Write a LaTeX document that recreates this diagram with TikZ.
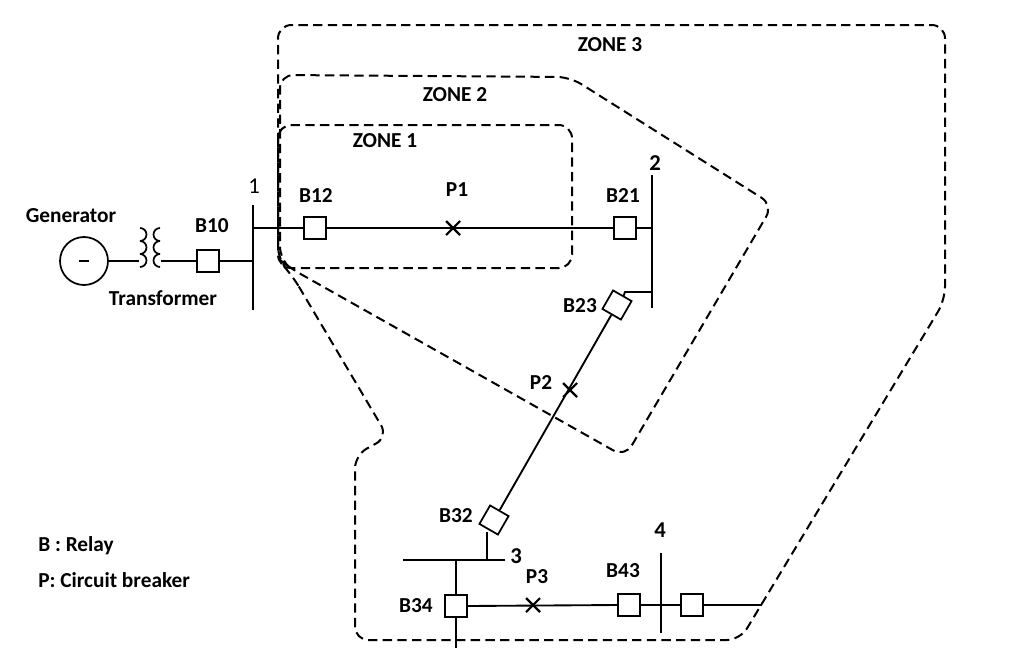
\documentclass[tikz,border=0pt]{standalone}
\usepackage{fontspec}
\setmainfont{Carlito}
\begin{document}
\begin{tikzpicture}[x=0.75pt,y=-0.75pt,line width=1.4pt,
  brk/.style={draw,fill=white,minimum size=16pt,inner sep=0pt,line width=1.3pt},
  lbl/.style={font=\bfseries\fontsize{16}{18}\selectfont,inner sep=1pt},
  num/.style={font=\bfseries\fontsize{17}{19}\selectfont,inner sep=1pt},
  zone/.style={dashed,dash pattern=on 7pt off 4pt,line width=1.5pt,rounded corners=10pt},
  bus/.style={line width=1.7pt}]
\useasboundingbox (0,0) rectangle (1024,650);
% zones
\draw[zone] (278,125) rectangle (572,268);
\draw[zone] (290,268) -- (280,260) -- (280,75) -- (570,77) -- (773,205) -- (625,457) -- cycle;
\draw[zone] (292,275) -- (388,437) -- (355,455) -- (355,640) -- (740,640) -- (945,300) -- (945,25) -- (278,25) -- (278,260) -- cycle;
\node[lbl] (z1) at (385,141) {ZONE 1};
\node[lbl] (z2) at (455,95) {ZONE 2};
\node[lbl] (z3) at (610,45) {ZONE 3};
% generator and transformer
\node[draw,circle,minimum size=36pt,line width=1.3pt] (gen) at (84,261) {};
\draw[line width=0.9pt] (79,261) -- (89,261);
\coordinate (t1) at (139,261);
\coordinate (t2) at (161,261);
\draw (gen) -- (t1);
\foreach \k in {0,1,2}{
  \draw[line width=1.3pt] (140,{241+\k*13}) arc[start angle=90,end angle=-90,radius=6.5];
  \draw[line width=1.3pt] (160,{241+\k*13}) arc[start angle=90,end angle=270,radius=6.5];
}
\node[brk] (b10) at (208,261) {};
\coordinate (bus1t) at (253,205);
\coordinate (bus1b) at (253,310);
\draw[bus] (bus1t) -- (bus1b);
\draw (t2) -- (b10.west);
\draw (b10.east) -- (253,261);
% line 1-2
\coordinate (bus2t) at (652,175);
\coordinate (bus2b) at (652,308);
\draw[bus] (bus2t) -- (bus2b);
\node[brk] (b12) at (315,228) {};
\node[brk] (b21) at (625,228) {};
\draw (253,228) -- (b12.west);
\draw (b12.east) -- (b21.west);
\draw (b21.east) -- (652,228);
\draw[line width=1.6pt] (446,221) -- (460,235) (446,235) -- (460,221);
% line 2-3
\draw (652,292) -- (625,292) -- (622,300);
\node[brk,rotate=-30] (b23) at (617,305) {};
\node[brk,rotate=-30] (b32) at (494,520) {};
\draw (b23) -- (b32);
\draw[line width=1.6pt] (563,383) -- (577,397) (563,397) -- (577,383);
\draw (487,532) -- (487,560);
\coordinate (bus3l) at (403,560);
\coordinate (bus3r) at (505,560);
\draw[bus] (bus3l) -- (bus3r);
% line 3-4
\node[brk] (b34) at (456,606) {};
\draw (456,560) -- (b34.north);
\draw (b34.south) -- (456,648);
\node[brk] (b43) at (629,605) {};
\node[brk] (b4x) at (692,605) {};
\coordinate (bus4t) at (661,553);
\coordinate (bus4b) at (661,633);
\draw[bus] (bus4t) -- (bus4b);
\draw (b34.east) -- (b43.west);
\draw (b43.east) -- (b4x.west);
\coordinate (end4) at (762,605);
\draw (b4x.east) -- (end4);
\draw[line width=1.6pt] (526,598) -- (540,612) (526,612) -- (540,598);
% labels
\node[lbl] at (71,216) {Generator};
\node[lbl] at (163,298) {Transformer};
\node[lbl] at (212,226) {B10};
\node[lbl] at (316,196) {B12};
\node[lbl] at (457,190) {P1};
\node[lbl] at (623,196) {B21};
\node[lbl] at (580,306) {B23};
\node[lbl] at (541,382) {P2};
\node[lbl] at (456,516) {B32};
\node[lbl] at (416,606) {B34};
\node[lbl] at (537,577) {P3};
\node[lbl] at (623,571) {B43};
\node[num,font=\fontsize{17}{19}\selectfont] at (254,186) {1};
\node[num] at (655,163) {2};
\node[num] at (516,556) {3};
\node[num] at (660,530) {4};
\node[lbl,anchor=west] at (36,546) {B : Relay};
\node[lbl,anchor=west] at (36,580) {P: Circuit breaker};
\end{tikzpicture}
\end{document}
